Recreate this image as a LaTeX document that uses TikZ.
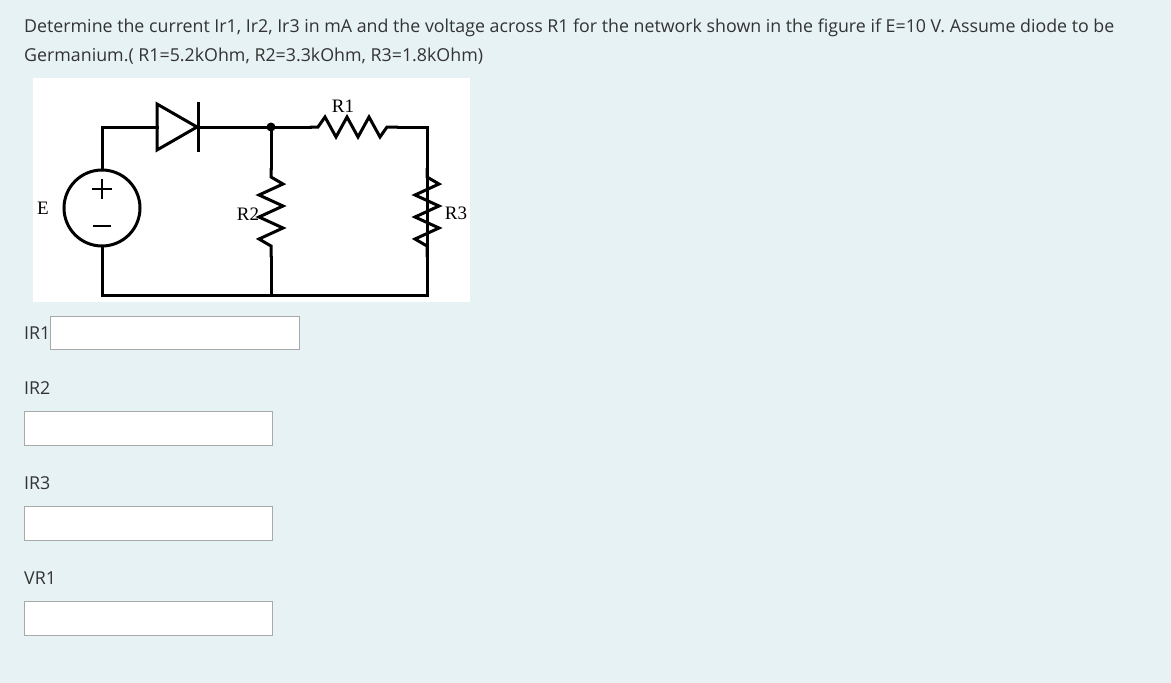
\documentclass[tikz,border=0pt]{standalone}
\usepackage{fontspec}
\setmainfont{Open Sans}
\newfontfamily\tms{Liberation Serif}
\definecolor{bg}{HTML}{E7F2F5}
\definecolor{txt}{HTML}{333333}
\definecolor{bx}{HTML}{A9A9A9}
\begin{document}
\begin{tikzpicture}[x=1pt,y=-1pt,
  wire/.style={line width=3pt,line cap=rect},
  lbl/.style={font=\fontsize{17.8}{21}\selectfont,text=txt,anchor=west,inner sep=0},
  cl/.style={font=\tms\fontsize{19}{22}\selectfont,inner sep=0},
  ansbox/.style={draw=bx,fill=white,line width=0.8pt}]
\fill[bg] (0,0) rectangle (1171,683);
\useasboundingbox (0,0) rectangle (1171,683);
\node[lbl] (q1) at (24,28) {Determine the current Ir1, Ir2, Ir3 in mA and the voltage across R1 for the network shown in the figure if E=10 V. Assume diode to be};
\node[lbl] (q2) at (24,56) {Germanium.( R1=5.2kOhm, R2=3.3kOhm, R3=1.8kOhm)};
\fill[white] (33,78) rectangle (470,302);
\coordinate (tl) at (102,127);
\coordinate (bl) at (102,295);
\coordinate (j) at (271,127);
\coordinate (tr) at (427,127);
\coordinate (br) at (427,295);
\coordinate (jb) at (271,295);
\node[circle,draw,line width=3pt,minimum size=76pt,inner sep=0] (E) at (102,208) {};
\draw[wire] (E.north) -- (tl) -- (145,127);
\draw[wire] (E.south) -- (bl) -- (br) -- (tr) -- (398,127);
\draw[line width=2.4pt] (102,179) -- (102,199) (92,189) -- (112,189);
\draw[line width=2.4pt] (93,226) -- (111,226);
\draw[wire] (145,127) -- (157,127);
\draw[line width=3pt,line join=miter] (157,104) -- (197,127) -- (157,150) -- cycle;
\draw[line width=3pt] (198,102) -- (198,152);
\draw[wire] (198,127) -- (j) -- (310,127);
\fill (j) circle (4.5pt);
\draw[line width=3pt,line join=miter] (310,127) -- (318,127) -- (325,117) -- (336,137) -- (347,117) -- (358,137) -- (369,117) -- (380,137) -- (387,127) -- (398,127);
\draw[wire] (j) -- (271,168);
\draw[line width=3pt,line join=miter] (271,168) -- (271,177) -- (283,184) -- (259,195) -- (283,206) -- (259,217) -- (283,228) -- (259,239) -- (271,246) -- (271,257);
\draw[wire] (271,257) -- (jb);
\draw[line width=3pt,line join=miter] (427,168) -- (427,177) -- (439,184) -- (415,195) -- (439,206) -- (415,217) -- (439,228) -- (415,239) -- (427,246) -- (427,257);
\node[cl] (lE) at (43,208) {E};
\node[cl] (lR1) at (343,106) {R1};
\node[cl] (lR2) at (248,214) {R2};
\node[cl] (lR3) at (456,213) {R3};
\node[lbl] (a1) at (24,333) {IR1};
\draw[ansbox] (50,316) rectangle (299,349);
\node[lbl] (a2) at (24,388) {IR2};
\draw[ansbox] (24,411) rectangle (272,445);
\node[lbl] (a3) at (24,483) {IR3};
\draw[ansbox] (24,506) rectangle (272,540);
\node[lbl] (a4) at (24,578) {VR1};
\draw[ansbox] (24,601) rectangle (272,635);
\end{tikzpicture}
\end{document}
